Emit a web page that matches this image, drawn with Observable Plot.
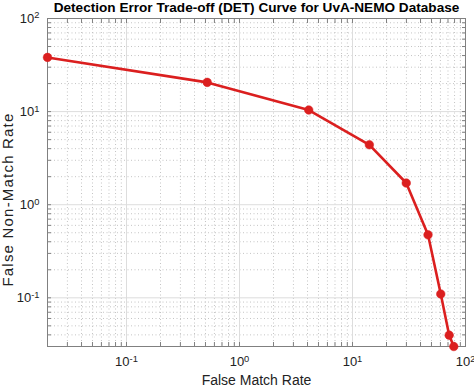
<!DOCTYPE html>
<html>
<head>
<meta charset="utf-8">
<script src="https://cdn.jsdelivr.net/npm/d3@7"></script>
<script src="https://cdn.jsdelivr.net/npm/@observablehq/plot@0.6"></script>
<style>
  html, body { margin: 0; padding: 0; background: #fff; }
</style>
</head>
<body>
<div id="chart"></div>
<script>
// Data
const falseMatchRate = [0.02, 0.518, 4.1, 14.1, 29.9, 46.6, 60.4, 71.7, 78.8];
const falseNonMatchRate = [38.2, 20.6, 10.4, 4.4, 1.71, 0.475, 0.110, 0.0397, 0.030];
const xMajorTicks = [0.1, 1, 10, 100];
const yMajorTicks = [0.1, 1, 10, 100];
const xDomain = [0.02, 100];
const yDomain = [0.03, 100];
const titleText = "Detection Error Trade-off (DET) Curve for UvA-NEMO Database";
const xLabelText = "False Match Rate";
const yLabelText = "False Non-Match Rate";

const data = falseMatchRate.map((x, i) => ({x, y: falseNonMatchRate[i]}));

function minorTicks([lo, hi]) {
  const out = [];
  for (let e = Math.floor(Math.log10(lo)); e <= Math.ceil(Math.log10(hi)); e++) {
    for (let m = 2; m <= 9; m++) {
      const v = m * Math.pow(10, e);
      if (v > lo && v < hi) out.push(v);
    }
  }
  return out;
}
const xMinor = minorTicks(xDomain);
const yMinor = minorTicks(yDomain);
const xAllTicks = xMajorTicks.concat(xMinor).filter(v => v > xDomain[0] && v < xDomain[1]);
const yAllTicks = yMajorTicks.concat(yMinor).filter(v => v > yDomain[0] && v < yDomain[1]);

const red = "#db1f1f";
const axisGray = "#808080";
const fmt = d => "10^" + Math.round(Math.log10(d));
const tk = 4;

const chart = Plot.plot({
  width: 474,
  height: 387,
  marginLeft: 47,
  marginRight: 9,
  marginTop: 18,
  marginBottom: 41,
  x: {type: "log", domain: xDomain},
  y: {type: "log", domain: yDomain},
  style: {fontFamily: "'Liberation Sans', Arial, Helvetica, sans-serif", background: "#fff", color: "#000", overflow: "visible"},
  marks: [
    Plot.ruleX(xMinor, {stroke: "#c4c4c4", strokeDasharray: "1,2.5"}),
    Plot.ruleY(yMinor, {stroke: "#c4c4c4", strokeDasharray: "1,2.5"}),
    Plot.ruleX(xMajorTicks.filter(v => v < xDomain[1]), {stroke: "#dddddd"}),
    Plot.ruleY(yMajorTicks.filter(v => v < yDomain[1]), {stroke: "#dddddd"}),
    // inward ticks on all four sides
    Plot.axisX(xAllTicks, {anchor: "bottom", tickSize: tk, dy: -tk, stroke: axisGray, tickFormat: () => "", label: null}),
    Plot.axisX(xAllTicks, {anchor: "top", tickSize: tk, dy: tk, stroke: axisGray, tickFormat: () => "", label: null}),
    Plot.axisY(yAllTicks, {anchor: "left", tickSize: tk, dx: tk, stroke: axisGray, tickFormat: () => "", label: null}),
    Plot.axisY(yAllTicks, {anchor: "right", tickSize: tk, dx: -tk, stroke: axisGray, tickFormat: () => "", label: null}),
    // tick labels
    Plot.axisX(xMajorTicks, {anchor: "bottom", tickSize: 0, tickPadding: 10, tickFormat: fmt, label: null, fontSize: 13, fill: "#222"}),
    Plot.axisY(yMajorTicks, {anchor: "left", tickSize: 0, tickPadding: 8, tickFormat: fmt, label: null, fontSize: 13, fill: "#222"}),
    Plot.frame({stroke: axisGray}),
    Plot.line(data, {x: "x", y: "y", stroke: red, strokeWidth: 2.6}),
    Plot.dot(data, {x: "x", y: "y", r: 4.3, fill: red, stroke: red, strokeWidth: 0.5}),
    Plot.text([titleText], {frameAnchor: "top", dy: -11, lineAnchor: "middle", fontWeight: "bold", fontSize: 13.6, fill: "#000"}),
    Plot.text([xLabelText], {frameAnchor: "bottom", dy: 34, lineAnchor: "middle", fontSize: 14, fill: "#222"}),
    Plot.text([yLabelText], {frameAnchor: "left", textAnchor: "middle", dx: -39, dy: 17, rotate: -90, lineAnchor: "middle", fontSize: 15, fill: "#222", className: "ylab"})
  ]
});

// superscript exponents in tick labels
chart.querySelectorAll("text").forEach(t => {
  const m = /^10\^(-?\d+)$/.exec(t.textContent);
  if (!m) return;
  t.textContent = "";
  const ns = "http://www.w3.org/2000/svg";
  const base = document.createElementNS(ns, "tspan");
  base.textContent = "10";
  const sup = document.createElementNS(ns, "tspan");
  sup.setAttribute("dy", "-0.45em");
  sup.setAttribute("font-size", "0.72em");
  sup.textContent = m[1];
  t.appendChild(base);
  t.appendChild(sup);
});
// slightly wider letter spacing on the y label, as in the reference
chart.querySelectorAll(".ylab text").forEach(t => {
  t.setAttribute("letter-spacing", "1.2");
});

document.getElementById("chart").appendChild(chart);
</script>
</body>
</html>
